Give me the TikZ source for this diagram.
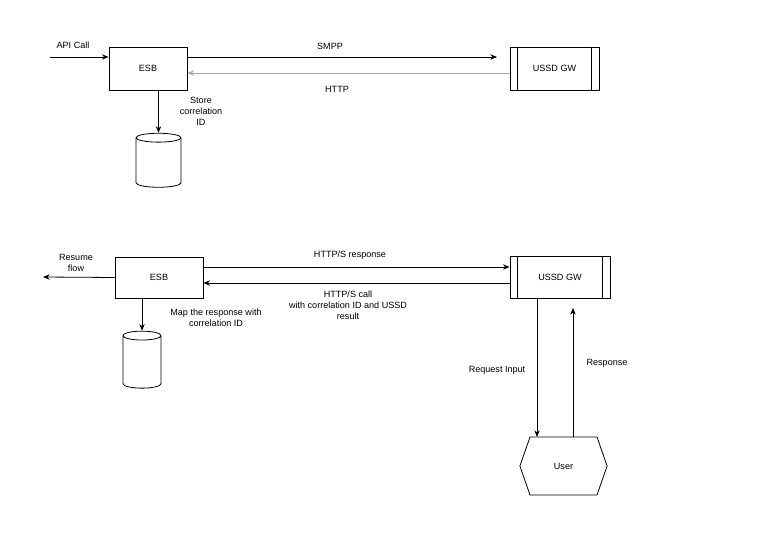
\documentclass[tikz,border=0pt]{standalone}
\usepackage{fontspec}
\setmainfont{Liberation Sans}
\usetikzlibrary{arrows.meta,shapes.geometric}
\begin{document}
\begin{tikzpicture}[x=0.75pt,y=-0.75pt,
  every node/.style={font=\fontsize{6.8}{8.3}\selectfont,align=center},
  arr/.style={draw,-{Stealth[length=5pt,width=4pt]},line width=0.6pt},
  box/.style={draw,line width=0.6pt}]
\useasboundingbox (0,0) rectangle (768,543);
% top
\node[box,minimum width=58.5pt,minimum height=32.25pt] (esb1) at (148,68.5) {ESB};
\node[box,minimum width=66.75pt,minimum height=32.25pt] (gw1) at (554.5,68.5) {USSD GW};
\draw[line width=0.6pt] ([xshift=6pt]gw1.north west) -- ([xshift=6pt]gw1.south west);
\draw[line width=0.6pt] ([xshift=-6pt]gw1.north east) -- ([xshift=-6pt]gw1.south east);
\coordinate (api) at (50,57);
\draw[arr] (api) -- (esb1.west |- api);
\node at (73,45) {API Call};
\coordinate (smppE) at (497,57);
\draw[arr] (esb1.east |- smppE) -- (smppE);
\node at (330,46) {SMPP};
\coordinate (httpY) at (0,73);
\draw[arr,draw=gray!70] (gw1.west |- httpY) -- (esb1.east |- httpY);
\node at (337,89) {HTTP};
\node[draw,cylinder,shape border rotate=90,aspect=1,minimum width=33.75pt,minimum height=40.5pt,line width=0.6pt] (db1) at (158.5,164) {};
\draw[arr] (esb1.south -| db1.north) -- (db1.north);
\node at (201,111) {Store\\correlation\\ID};
% bottom
\node[box,minimum width=66pt,minimum height=30.75pt] (esb2) at (159,277.5) {ESB};
\node[box,minimum width=75pt,minimum height=31.5pt] (gw2) at (560,277) {USSD GW};
\draw[line width=0.6pt] ([xshift=6pt]gw2.north west) -- ([xshift=6pt]gw2.south west);
\draw[line width=0.6pt] ([xshift=-6pt]gw2.north east) -- ([xshift=-6pt]gw2.south east);
\coordinate (r1) at (0,267);
\coordinate (r2) at (0,283);
\draw[arr] (esb2.east |- r1) -- (gw2.west |- r1);
\draw[arr] (gw2.west |- r2) -- (esb2.east |- r2);
\node at (350,255) {HTTP/S response};
\node at (348,305) {HTTP/S call\\with correlation ID and USSD\\result};
\coordinate (res) at (43,277);
\draw[arr] (esb2.west) -- (res);
\node at (76,263) {Resume\\flow};
\node[draw,cylinder,shape border rotate=90,aspect=1,minimum width=28.5pt,minimum height=42.75pt,line width=0.6pt] (db2) at (142,363.5) {};
\draw[arr] (esb2.south -| db2.north) -- (db2.north);
\node at (216,318) {Map the response with\\correlation ID};
\node[minimum width=65pt,minimum height=43.5pt,inner sep=0pt] (user) at (563.5,466) {User};
\draw[line width=0.6pt] (user.west) -- (530,437) -- (597,437) -- (user.east) -- (597,495) -- (530,495) -- cycle;
\coordinate (u1) at (537,437);
\coordinate (u2) at (573,437);
\draw[arr] (gw2.south -| u1) -- (u1);
\draw[arr] (u2) -- (573,308);
\node at (497,370) {Request Input};
\node at (607,363) {Response};
\end{tikzpicture}
\end{document}
